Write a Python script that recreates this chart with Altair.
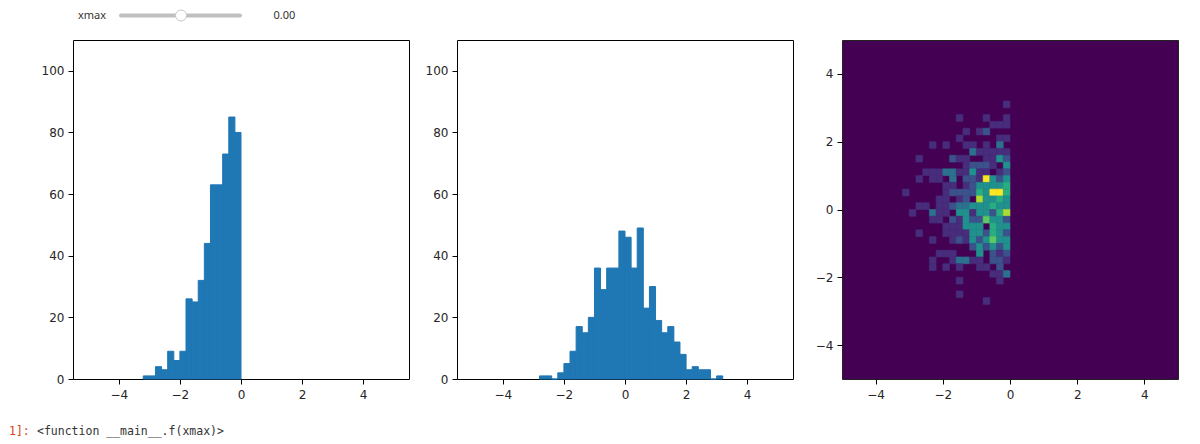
import altair as alt
import pandas as pd

# ---------------- data ----------------
# Panel 1: histogram of x restricted to x < xmax (= 0.00), bin width 0.2
x_bin_left = [-3.2, -3.0, -2.8, -2.6, -2.4, -2.2, -2.0, -1.8, -1.6, -1.4,
              -1.2, -1.0, -0.8, -0.6, -0.4, -0.2]
x_counts = [1, 1, 4, 3, 9, 6, 9, 26, 25, 32, 44, 63, 63, 73, 85, 80]

# Panel 2: histogram of y, bin width 0.2
y_bin_left = [-2.8, -2.6, -2.4, -2.2, -2.0, -1.8, -1.6, -1.4, -1.2, -1.0,
              -0.8, -0.6, -0.4, -0.2, 0.0, 0.2, 0.4, 0.6, 0.8, 1.0,
              1.2, 1.4, 1.6, 1.8, 2.0, 2.2, 2.4, 2.6, 2.8, 3.0]
y_counts = [1, 1, 0, 2, 5, 9, 17, 15, 20, 36,
            29, 36, 36, 48, 46, 36, 49, 23, 30, 19,
            15, 17, 12, 8, 3, 4, 3, 3, 0, 1]

BIN_WIDTH = 0.2

# Panel 3: 2-D histogram (counts), columns = x bins, rows = y bins (top to bottom)
h2_col_left = [-3.2, -3.0, -2.8, -2.6, -2.4, -2.2, -2.0, -1.8, -1.6, -1.4,
               -1.2, -1.0, -0.8, -0.6, -0.4, -0.2]
h2_row_bottom = [3.0, 2.8, 2.6, 2.4, 2.2, 2.0, 1.8, 1.6, 1.4, 1.2,
                 1.0, 0.8, 0.6, 0.4, 0.2, 0.0, -0.2, -0.4, -0.6, -0.8,
                 -1.0, -1.2, -1.4, -1.6, -1.8, -2.0, -2.2, -2.4, -2.6, -2.8]
h2_rows = [
    "0000000000000001",
    "0000000000000000",
    "0000000010001001",
    "0000000000000111",
    "0000000001012000",
    "0000000010000011",
    "0000101001101030",
    "0000000000311111",
    "0010000211001142",
    "0000000001222104",
    "0001113311411012",
    "0010110302218424",
    "0000001101244445",
    "1000001222254885",
    "0000011012074454",
    "0011011233444544",
    "0100311044144257",
    "0000110214226442",
    "0000001114440544",
    "0010001111442542",
    "0000100121424644",
    "0000000000242424",
    "0000011100040212",
    "0000100133110221",
    "0000101010011020",
    "0000000000000113",
    "0000000010000010",
    "0000000000000000",
    "0000000010000000",
    "0000000000001000",
]
h2_max = 8

x_ticks = [-4, -2, 0, 2, 4]
hist_y_ticks = [0, 20, 40, 60, 80, 100]

slider_label = "xmax"
slider_value = "0.00"
prompt_text = "1]:"
output_text = "<function __main__.f(xmax)>"

# ---------------- tables ----------------
df_x = pd.DataFrame({"left": x_bin_left, "count": x_counts})
df_x["right"] = df_x["left"] + BIN_WIDTH
df_y = pd.DataFrame({"left": y_bin_left, "count": y_counts})
df_y["right"] = df_y["left"] + BIN_WIDTH

cells = []
for yb, row in zip(h2_row_bottom, h2_rows):
    for xl, ch in zip(h2_col_left, row):
        c = int(ch)
        if c > 0:
            cells.append({"x": xl, "x2": xl + BIN_WIDTH, "y": yb, "y2": yb + BIN_WIDTH, "count": c})
df_2d = pd.DataFrame(cells)

# ---------------- style ----------------
FONT = "DejaVu Sans"
BLUE = "#1f77b4"
LABEL_COLOR = "#262626"
W, H = 336, 339


def x_axis():
    return alt.Axis(values=x_ticks, title=None, grid=False, domain=False,
                    tickSize=5, tickWidth=1, tickColor="black",
                    labelFont=FONT, labelFontSize=12, labelColor=LABEL_COLOR,
                    labelPadding=5, labelFlush=False, labelOverlap=False)


def y_axis(vals):
    return alt.Axis(values=vals, title=None, grid=False, domain=False,
                    tickSize=5, tickWidth=1, tickColor="black",
                    labelFont=FONT, labelFontSize=12, labelColor=LABEL_COLOR,
                    labelPadding=4, labelOverlap=False,
                    minExtent=40, maxExtent=40, titlePadding=0)


def hist_panel(df):
    return alt.Chart(df).mark_rect(color=BLUE, stroke=BLUE, strokeWidth=1).encode(
        x=alt.X("left:Q", scale=alt.Scale(domain=[-5.5, 5.5], nice=False, zero=False), axis=x_axis()),
        x2="right:Q",
        y=alt.Y("count:Q", scale=alt.Scale(domain=[0, 110], nice=False), axis=y_axis(hist_y_ticks)),
        y2=alt.datum(0),
    )


one = pd.DataFrame({"k": [0]})
SLIDER_Y = -24.5
TEXT_Y = -24

track = alt.Chart(one).mark_rule(color="#c0c0c0", strokeWidth=4, strokeCap="round").encode(
    x=alt.value(48), x2=alt.value(167), y=alt.value(SLIDER_Y))
knob = alt.Chart(one).mark_point(shape="circle", filled=True, fill="white", stroke="#c8c8c8",
                                 strokeWidth=1, size=121, opacity=1).encode(
    x=alt.value(108), y=alt.value(SLIDER_Y))
t_label = alt.Chart(one).mark_text(font="Noto Sans", fontSize=11, color="#333333",
                                   align="right", baseline="middle").encode(
    x=alt.value(33), y=alt.value(TEXT_Y), text=alt.value(slider_label))
t_value = alt.Chart(one).mark_text(font="Noto Sans", fontSize=11, color="#333333",
                                   align="left", baseline="middle").encode(
    x=alt.value(200.5), y=alt.value(TEXT_Y), text=alt.value(slider_value))
t_prompt = alt.Chart(one).mark_text(font="DejaVu Sans Mono", fontSize=11.5, color="#d84315",
                                    align="left", baseline="middle").encode(
    x=alt.value(-64), y=alt.value(392), text=alt.value(prompt_text))
t_out = alt.Chart(one).mark_text(font="DejaVu Sans Mono", fontSize=11.5, color="#333333",
                                 align="left", baseline="middle").encode(
    x=alt.value(-36), y=alt.value(392), text=alt.value(output_text))

view_white = alt.ViewBackground(fill="white", stroke="black", strokeWidth=1)

panel1 = alt.layer(hist_panel(df_x), track, knob, t_label, t_value, t_prompt, t_out).properties(
    width=W, height=H, view=view_white)

panel2 = hist_panel(df_y).properties(width=W, height=H, view=view_white)

panel3 = alt.Chart(df_2d).mark_rect(strokeWidth=0.6).encode(
    x=alt.X("x:Q", scale=alt.Scale(domain=[-5, 5], nice=False, zero=False), axis=x_axis()),
    x2="x2:Q",
    y=alt.Y("y:Q", scale=alt.Scale(domain=[-5, 5], nice=False, zero=False), axis=y_axis(x_ticks)),
    y2="y2:Q",
    fill=alt.Fill("count:Q", scale=alt.Scale(scheme="viridis", domain=[0, h2_max]), legend=None),
    stroke=alt.Stroke("count:Q", scale=alt.Scale(scheme="viridis", domain=[0, h2_max]), legend=None),
).properties(width=W, height=H,
             view=alt.ViewBackground(fill="#440154", stroke="#222222", strokeWidth=1))

left_pair = alt.hconcat(panel1, panel2, spacing=6)
chart = alt.hconcat(left_pair, panel3, spacing=7).properties(
    padding={"left": 0, "top": -1, "right": 4, "bottom": 4},
    background="white",
)

chart.save("out.html", embed_options={"renderer": "svg", "actions": False})
